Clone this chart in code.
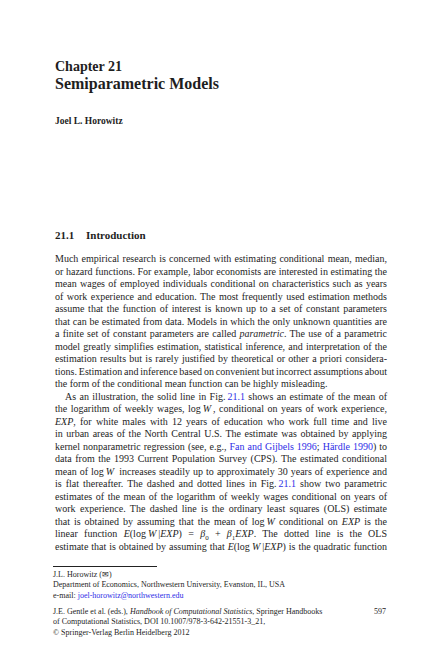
<!doctype html>
<html>

<head>
	<meta charset="utf-8">
	<title>Semiparametric Models</title>
	<script src="https://cdn.jsdelivr.net/npm/chart.js@4"></script>
	<style>
	html, body {
		margin: 0;
		padding: 0;
		background: #fff;
	}
	body {
		width: 439px;
		height: 666px;
		position: relative;
		overflow: hidden;
		font-family: "Liberation Serif", "Times New Roman", serif;
		color: #1e1e1e;
	}
	.ln {
		position: absolute;
		white-space: nowrap;
	}
	.lnk {
		color: #2e2ee6;
	}
	.rule {
		position: absolute;
		height: 0;
		border-top: 0.8px solid #222;
	}
	</style>
</head>

<body>
	<script>
		// page text, one entry per printed line
		var headLines = ['Chapter 21', 'Semiparametric Models'];
		var authorLine = 'Joel L. Horowitz';
		var sectionNum = '21.1';
		var sectionTitle = 'Introduction';

		var para1 = [
			'Much empirical research is concerned with estimating conditional mean, median,',
			'or hazard functions. For example, labor economists are interested in estimating the',
			'mean wages of employed individuals conditional on characteristics such as years',
			'of work experience and education. The most frequently used estimation methods',
			'assume that the function of interest is known up to a set of constant parameters',
			'that can be estimated from data. Models in which the only unknown quantities are',
			'a finite set of constant parameters are called <i>parametric</i>. The use of a parametric',
			'model greatly simplifies estimation, statistical inference, and interpretation of the',
			'estimation results but is rarely justified by theoretical or other a priori considera-',
			'tions. Estimation and inference based on convenient but incorrect assumptions about',
			'the form of the conditional mean function can be highly misleading.'
		];

		var para2 = [
			'As an illustration, the solid line in Fig.&thinsp;<span class="lnk">21.1</span> shows an estimate of the mean of',
			'the logarithm of weekly wages, log&thinsp;<i>W</i>&thinsp;, conditional on years of work experience,',
			'<i>EXP</i>, for white males with 12 years of education who work full time and live',
			'in urban areas of the North Central U.S. The estimate was obtained by applying',
			'kernel nonparametric regression (see, e.g., <span class="lnk">Fan and Gijbels 1996</span>; <span class="lnk">Härdle 1990</span>) to',
			'data from the 1993 Current Population Survey (CPS). The estimated conditional',
			'mean of log&thinsp;<i>W</i>&thinsp; increases steadily up to approximately 30 years of experience and',
			'is flat thereafter. The dashed and dotted lines in Fig.&thinsp;<span class="lnk">21.1</span> show two parametric',
			'estimates of the mean of the logarithm of weekly wages conditional on years of',
			'work experience. The dashed line is the ordinary least squares (OLS) estimate',
			'that is obtained by assuming that the mean of log&thinsp;<i>W</i> conditional on <i>EXP</i> is the',
			'linear function <i>E</i>(log&thinsp;<i>W</i>&thinsp;|<i>EXP</i>) = <i>β</i><sub>0</sub> + <i>β</i><sub>1</sub><i>EXP</i>. The dotted line is the OLS',
			'estimate that is obtained by assuming that <i>E</i>(log&thinsp;<i>W</i>&thinsp;|<i>EXP</i>) is the quadratic function'
		];

		var footAuthor = [
			'J.L. Horowitz (\u2709)',
			'Department of Economics, Northwestern University, Evanston, IL, USA',
			'e-mail: <span class="lnk">joel-horowitz@northwestern.edu</span>'
		];

		var footSource = [
			'J.E. Gentle et al. (eds.), <i>Handbook of Computational Statistics</i>, Springer Handbooks',
			'of Computational Statistics, DOI 10.1007/978-3-642-21551-3_21,',
			'© Springer-Verlag Berlin Heidelberg 2012'
		];

		var pageNumber = '597';

		// layout
		var LEFT = 55;
		var TEXT_W = 332;
		var LEAD = 12.5;
		var FOOT_LEAD = 10.5;

		function place(html, x, baseline, fs, opts) {
			opts = opts || {};
			var lh = fs * 1.2;
			var el = document.createElement('div');
			el.className = 'ln';
			el.innerHTML = html;
			el.style.fontSize = fs + 'px';
			el.style.lineHeight = lh + 'px';
			el.style.left = x + 'px';
			el.style.top = (baseline - ((lh - 1.107 * fs) / 2 + 0.891 * fs)) + 'px';
			if (opts.bold) el.style.fontWeight = 'bold';
			document.body.appendChild(el);
			el.querySelectorAll('sub').forEach(function(s) {
				s.style.fontSize = '0.7em';
				s.style.lineHeight = '0';
			});
			if (opts.width) {
				// spread the words so the line fills the measure
				var w = el.getBoundingClientRect().width;
				var gaps = (el.textContent.match(/[ \u00a0]/g) || []).length;
				if (gaps > 0) {
					el.style.wordSpacing = ((opts.width - w) / gaps) + 'px';
				}
			}
			if (opts.right) {
				el.style.left = (opts.right - el.getBoundingClientRect().width) + 'px';
			}
			return el;
		}

		place(headLines[0], LEFT, 72, 14, { bold: true });
		place(headLines[1], LEFT, 89, 16, { bold: true });
		place(authorLine, LEFT, 125, 9.5, { bold: true });

		place(sectionNum, LEFT, 239, 11, { bold: true });
		place(sectionTitle, 86, 239, 11, { bold: true });

		var base = 262.5;
		para1.forEach(function(t, i) {
			var last = i === para1.length - 1;
			place(t, LEFT, base + i * LEAD, 10, last ? {} : { width: TEXT_W });
		});
		base += para1.length * LEAD;
		para2.forEach(function(t, i) {
			var x = i === 0 ? LEFT + 10 : LEFT;
			var w = i === 0 ? TEXT_W - 10 : TEXT_W;
			place(t, x, base + i * LEAD, 10, { width: w });
		});

		var rule = document.createElement('div');
		rule.className = 'rule';
		rule.style.left = LEFT - 2 + 'px';
		rule.style.top = '566px';
		rule.style.width = '104px';
		document.body.appendChild(rule);

		footAuthor.forEach(function(t, i) {
			place(t, LEFT - 2, 577 + i * FOOT_LEAD, 8);
		});
		footSource.forEach(function(t, i) {
			place(t, LEFT - 2, 614 + i * FOOT_LEAD, 8);
		});
		place(pageNumber, 0, 614, 8, { right: 386 });
	</script>
</body>

</html>
